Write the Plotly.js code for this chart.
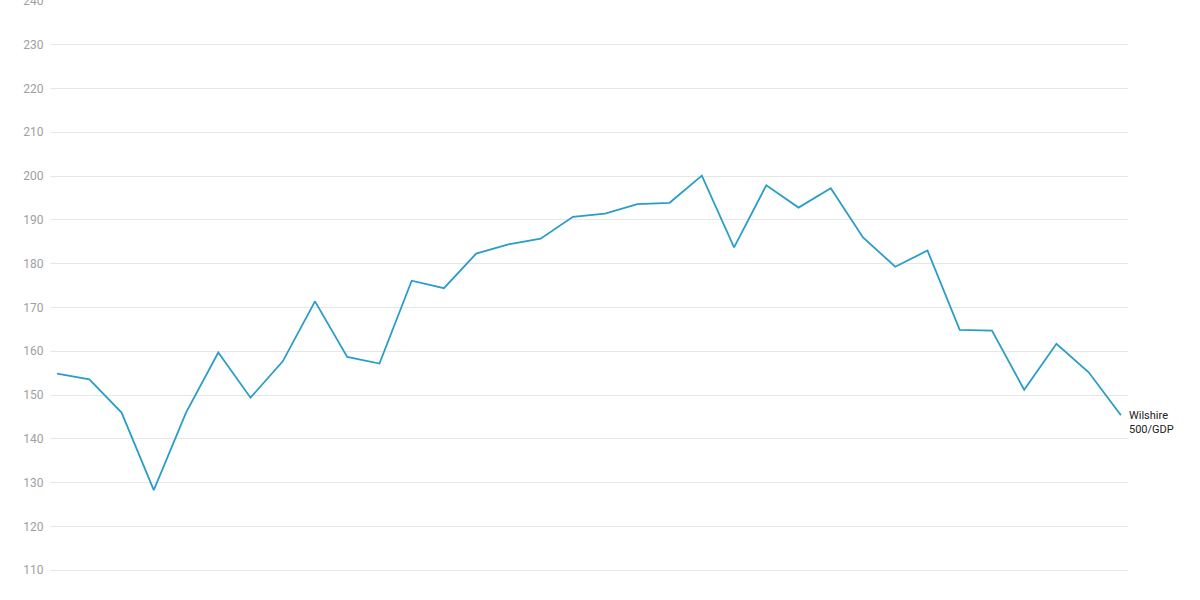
<!DOCTYPE html>
<html>
<head>
<meta charset="utf-8">
<script src="https://cdn.plot.ly/plotly-3.0.1.min.js"></script>
<style>
  html, body { margin: 0; padding: 0; background: #fff; }
  #chart { width: 1200px; height: 600px; }
</style>
</head>
<body>
<div id="chart"></div>
<script>
// one point per period (no x labels are shown)
const periods = [
    1, 2, 3, 4, 5, 6, 7, 8, 9, 10, 11, 12, 13, 14, 15, 16, 17,
    18, 19, 20, 21, 22, 23, 24, 25, 26, 27, 28, 29, 30, 31, 32, 33, 34
];
const wilshireToGdp = [
    154.9, 153.6, 146.0, 128.3, 146.0, 159.7, 149.4, 157.7, 171.4, 158.7, 157.2, 176.1,
    174.4, 182.3, 184.4, 185.7, 190.7, 191.4, 193.6, 193.9, 200.1, 183.7, 197.9, 192.8,
    197.2, 186.0, 179.3, 183.0, 164.9, 164.7, 151.2, 161.7, 155.2, 145.4
];
const seriesName = 'Wilshire<br>500/GDP';
const yTicks = [110, 120, 130, 140, 150, 160, 170, 180, 190, 200, 210, 220, 230, 240];

const LINE_COLOR = '#2a9dc8';

const traces = [{
    x: periods,
    y: wilshireToGdp,
    type: 'scatter',
    mode: 'lines',
    line: { color: LINE_COLOR, width: 1.8 },
    hoverinfo: 'skip',
    showlegend: false,
}];

const lastIdx = periods.length - 1;

const layout = {
    width: 1200,
    height: 600,
    margin: { l: 50, r: 72, t: 0, b: 28 },
    paper_bgcolor: '#fff',
    plot_bgcolor: '#fff',
    font: { family: 'Roboto, "Open Sans", sans-serif', size: 12, color: '#999' },
    showlegend: false,
    xaxis: {
        range: [periods[0] - 0.22, periods[lastIdx] + 0.22],
        showgrid: false,
        zeroline: false,
        showline: false,
        showticklabels: false,
        ticks: '',
    },
    yaxis: {
        // padded past 110..240 so plotly keeps the edge gridlines and labels
        range: [109.6, 240.2],
        tickvals: yTicks,
        showgrid: true,
        gridcolor: '#e6e6e6',
        gridwidth: 1,
        zeroline: false,
        showline: false,
        ticks: 'outside',
        ticklen: 3,
        tickcolor: 'rgba(0,0,0,0)',
        ticklabeloverflow: 'allow',   // the top "240" is cut by the page edge
        tickfont: { size: 12, color: '#a0a0a0' },
    },
    annotations: [{
        x: periods[lastIdx],
        y: wilshireToGdp[lastIdx],
        xref: 'x',
        yref: 'y',
        text: seriesName,
        showarrow: false,
        xanchor: 'left',
        yanchor: 'middle',
        align: 'left',
        xshift: 6,
        yshift: -7,
        font: { size: 11, color: '#222' },
    }],
};

const config = { displayModeBar: false, responsive: false, staticPlot: true };

Plotly.newPlot('chart', traces, layout, config);
</script>
</body>
</html>
